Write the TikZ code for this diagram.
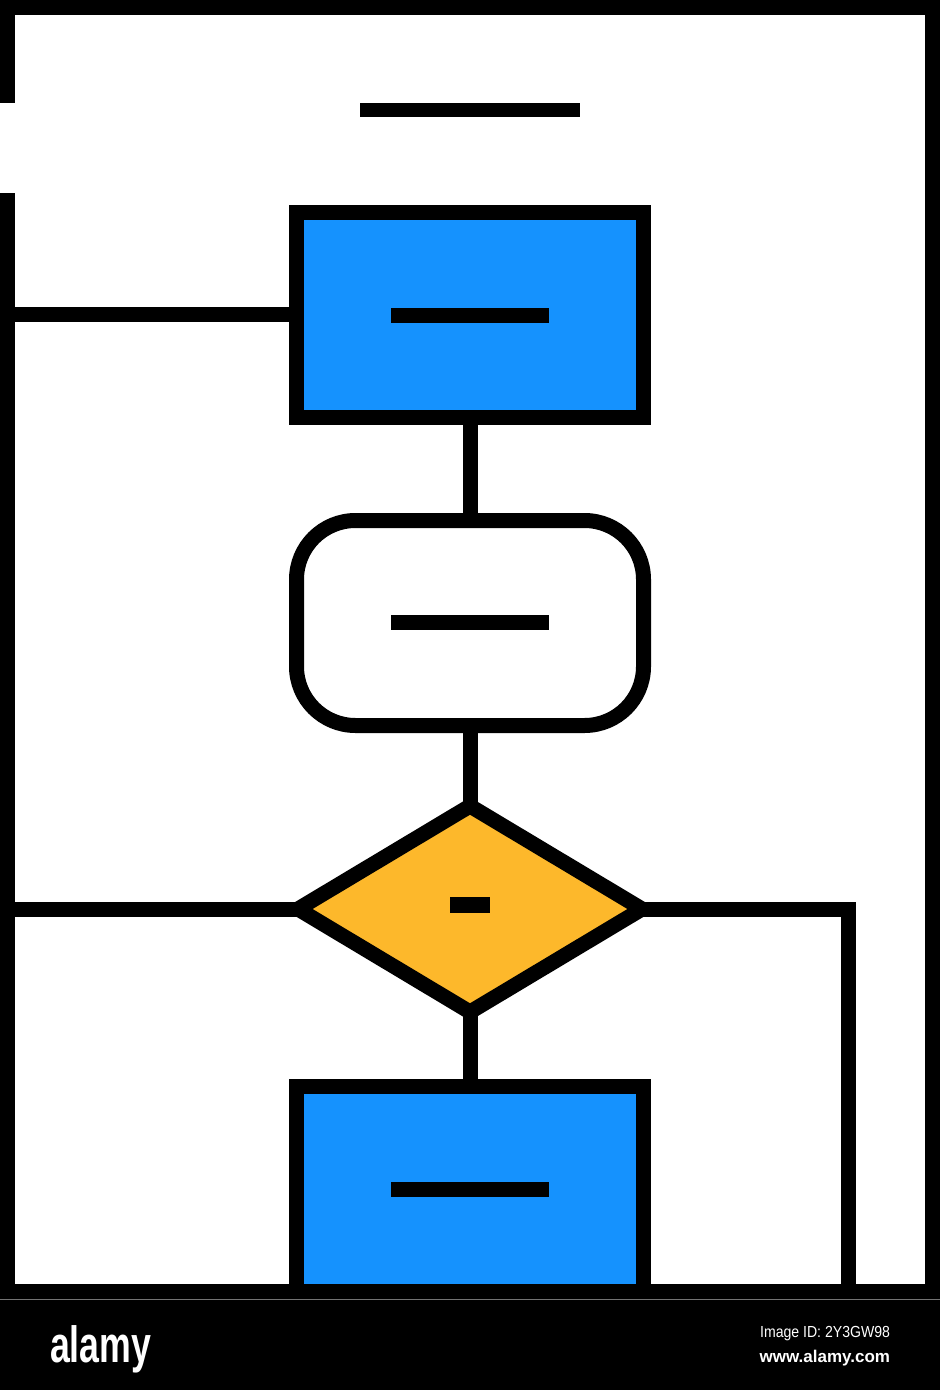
\documentclass[tikz,border=0pt]{standalone}
\usepackage{fontspec}
\usetikzlibrary{shapes.geometric}
\newfontfamily\logofont[FakeStretch=0.7]{Liberation Sans}
\newfontfamily\idfont[FakeStretch=0.88]{Liberation Sans}
\newfontfamily\urlfont{Liberation Sans}
\definecolor{flowblue}{HTML}{1592FE}
\definecolor{flowyellow}{HTML}{FDB82B}
\begin{document}
\begin{tikzpicture}[x=0.5pt,y=-0.5pt,
  frameline/.style={draw=black, line width=7.5pt, line join=miter},
  conn/.style={draw=black, line width=7.5pt, line join=miter},
  procbox/.style={draw=black, line width=7.5pt, fill=flowblue, minimum width=173.5pt, minimum height=102.5pt, inner sep=0pt, outer sep=0pt},
  termbox/.style={draw=black, line width=7.5pt, fill=white, rounded corners=29.5pt, minimum width=173.5pt, minimum height=102.5pt, inner sep=0pt, outer sep=0pt},
  decbox/.style={diamond, draw=black, line width=7.5pt, line join=miter, fill=flowyellow, minimum width=172pt, minimum height=103pt, inner sep=0pt, outer sep=0pt},
  bar/.style={fill=black, inner sep=0pt, outer sep=0pt, minimum width=79pt, minimum height=7.5pt},
  wtext/.style={text=white, inner sep=0pt, outer sep=0pt}]
\fill[white] (0,0) rectangle (940,1390);
\useasboundingbox (0,0) rectangle (940,1390);
% frame
\draw[frameline] (7.5,103) -- (7.5,7.5) -- (932.5,7.5) -- (932.5,1291) -- (7.5,1291) -- (7.5,193);
% bottom banner
\fill[black] (0,1299) rectangle (940,1390);
\draw[black!55, line width=0.5pt] (0,1299.5) -- (940,1299.5);
% title
\node[bar, minimum width=110pt, minimum height=7pt] (title) at (470,110) {};
% shapes
\node[procbox] (p1) at (470,315) {};
\node[bar] (t1) at (470,315.5) {};
\node[termbox] (r1) at (470,623) {};
\node[bar] (t2) at (470,622) {};
\node[decbox] (d1) at (470,909) {};
\node[bar, minimum width=20pt, minimum height=8pt] (t3) at (470,905) {};
\node[procbox] (p2) at (470,1189) {};
\node[bar] (t4) at (470,1189) {};
% connector ends
\coordinate (L1) at (7.5,315);
\coordinate (L2) at (7.5,909);
\coordinate (R1) at (848,909);
\coordinate (R2) at (848,1291);
\draw[conn] (p1.south) -- (r1.north);
\draw[conn] (r1.south) -- (d1.north);
\draw[conn] (d1.south) -- (p2.north);
\draw[conn] (p1.west) -- (L1);
\draw[conn] (d1.west) -- (L2);
\draw[conn] (d1.east) -- (R1) -- (R2);
% banner texts
\node[wtext, anchor=base west, font=\logofont\bfseries\fontsize{25.5}{26}\selectfont] (logo) at (50,1362) {alamy};
\node[wtext, anchor=base east, font=\idfont\fontsize{8}{9}\selectfont] (imgid) at (890,1337) {Image ID: 2Y3GW98};
\node[wtext, anchor=base east, font=\urlfont\bfseries\fontsize{8.5}{9}\selectfont] (url) at (890,1362) {www.alamy.com};
\end{tikzpicture}
\end{document}
